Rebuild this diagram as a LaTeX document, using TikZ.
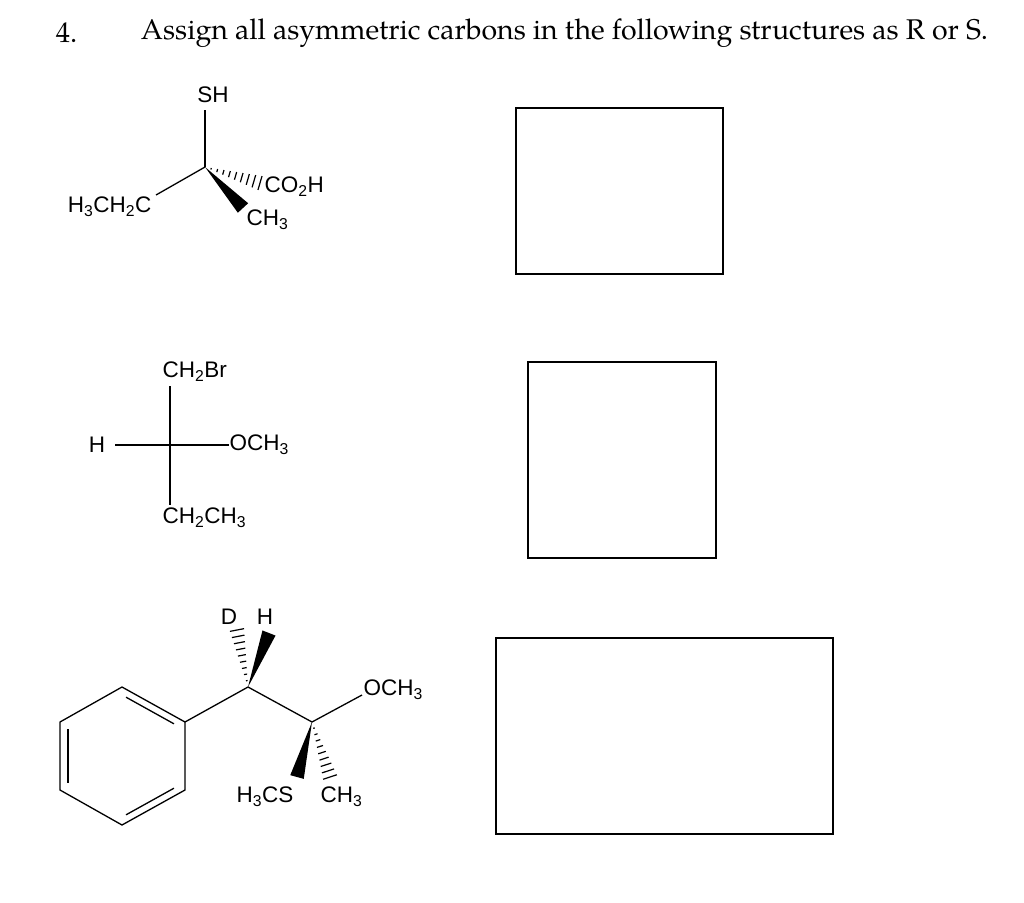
\documentclass[tikz,border=0pt]{standalone}
\usepackage{fontspec}
\usetikzlibrary{calc}
\setmainfont{TeX Gyre Pagella}
\newfontfamily\chemf{Liberation Sans}
\newcommand\hashw[4]{%
 \pgfmathsetmacro\hwang{atan2(#4-#2,#3-#1)}%
 \pgfmathsetmacro\hwlen{veclen(#3-#1,#4-#2)}%
 \begin{scope}[shift={(#1,#2)},rotate=\hwang]
 \foreach \k in {1,...,9}{\draw[line width=1.2pt] (\k/9*\hwlen,-\k*0.8) -- (\k/9*\hwlen,\k*0.8);}
 \end{scope}}
\newcommand\solw[4]{%
 \pgfmathsetmacro\hwang{atan2(#4-#2,#3-#1)}%
 \pgfmathsetmacro\hwlen{veclen(#3-#1,#4-#2)}%
 \begin{scope}[shift={(#1,#2)},rotate=\hwang]
 \fill (0,0) -- (\hwlen,-7) -- (\hwlen,7) -- cycle;
 \end{scope}}
\newcommand\sub[1]{\textsubscript{#1}}
\begin{document}
\begin{tikzpicture}[x=1pt,y=1pt,line width=1.3pt,
 lab/.style={font=\chemf\fontsize{22.5}{23}\selectfont,inner sep=0pt},
 ansbox/.style={draw,line width=1.3pt}]
\useasboundingbox (0,-902) rectangle (1024,0);
\node[font=\fontsize{28.5}{30}\selectfont,anchor=west] (num) at (52,-33) {4.};
\node[font=\fontsize{28.5}{30}\selectfont,anchor=west] (title) at (137,-33) {Assign all asymmetric carbons in the following structures as R or S.};
% top molecule
\coordinate (c1) at (205,-167);
\node[lab] (sh) at (213,-95) {SH};
\node[lab,anchor=east] (et) at (152,-207) {H\sub{3}CH\sub{2}C};
\node[lab,anchor=west] (co) at (264,-187) {CO\sub{2}H};
\node[lab,anchor=west] (me) at (246,-220) {CH\sub{3}};
\draw (c1) -- (205,-110);
\draw (c1) -- (156,-195);
\hashw{205}{-167}{260}{-183}
\solw{205}{-167}{243}{-208}
% fischer
\coordinate (f) at (170,-445);
\node[lab,anchor=west] (br) at (162,-372) {CH\sub{2}Br};
\node[lab,anchor=west] (ee) at (162,-518) {CH\sub{2}CH\sub{3}};
\node[lab] (hh) at (97,-445) {H};
\node[lab,anchor=west] (om) at (229,-445) {OCH\sub{3}};
\draw (170,-386) -- (170,-505);
\draw (115,-445) -- (229,-445);
% bottom molecule
\coordinate (a1) at (248,-687);
\coordinate (a2) at (312,-722);
\coordinate (r1) at (185,-722);
\coordinate (r2) at (122,-687);
\coordinate (r3) at (60,-722);
\coordinate (r4) at (60,-790);
\coordinate (r5) at (122,-825);
\coordinate (r6) at (185,-790);
\draw (r1)--(r2)--(r3)--(r4)--(r5)--(r6)--cycle;
\draw ($(r1)!0.12!(r2)+(-3.5,-6)$) -- ($(r1)!0.88!(r2)+(-3.5,-6)$);
\draw (68,-729) -- (68,-783);
\draw ($(r5)!0.12!(r6)+(-3.5,6)$) -- ($(r5)!0.88!(r6)+(-3.5,6)$);
\draw (r1) -- (a1) -- (a2) -- (362,-695);
\node[lab,anchor=west] (o2) at (363,-690) {OCH\sub{3}};
\node[lab] (dd) at (229,-617) {D};
\node[lab] (h2) at (265,-617) {H};
\hashw{248}{-687}{237}{-630}
\solw{248}{-687}{269}{-633}
\solw{312}{-722}{297}{-777}
\hashw{312}{-722}{330}{-777}
\node[lab,anchor=west] (sm) at (236,-797) {H\sub{3}CS};
\node[lab,anchor=west] (m2) at (320,-797) {CH\sub{3}};
% boxes
\draw[ansbox] (516,-108) rectangle (723,-274);
\draw[ansbox] (528,-362) rectangle (716,-558);
\draw[ansbox] (496,-638) rectangle (833,-834);
\end{tikzpicture}
\end{document}
